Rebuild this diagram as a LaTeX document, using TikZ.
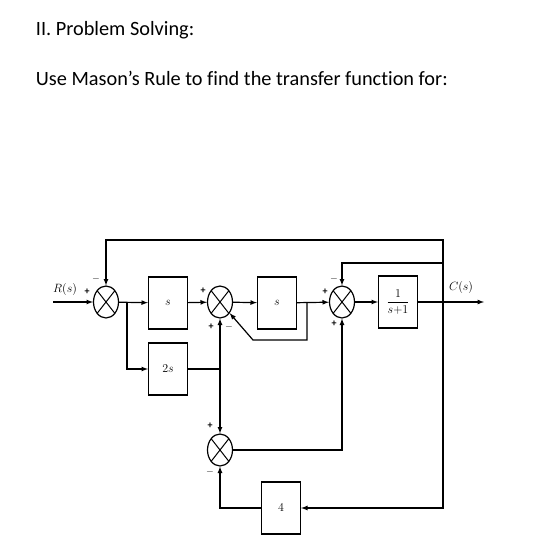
\documentclass[tikz,border=0pt]{standalone}
\usepackage{fontspec}
\setmainfont[Ligatures=NoCommon]{Carlito}
\usetikzlibrary{arrows,shapes.geometric}

\tikzset{
	block/.style={draw, line width=1.2pt, minimum width=39pt, minimum height=52pt, inner sep=0pt, font=\fontsize{12}{13}\selectfont},
	sumj/.style={draw, ellipse, line width=1.2pt, minimum width=25pt, minimum height=32pt, inner sep=0pt,
		path picture={\draw[line width=1pt] (path picture bounding box.north west) -- (path picture bounding box.south east)
			(path picture bounding box.north east) -- (path picture bounding box.south west);}},
	sgn/.style={font=\bfseries\fontsize{10}{10}\selectfont, inner sep=0pt},
	lbl/.style={font=\fontsize{12}{12}\selectfont, inner sep=0pt}
}

\begin{document}
\begin{tikzpicture}[x=1pt,y=-1pt,line width=1.2pt]
\useasboundingbox (0,0) rectangle (540,560);
\node[anchor=west,font=\fontsize{20.3}{22}\selectfont] (t1) at (32,30) {II. Problem Solving:};
\node[anchor=west,font=\fontsize{20.3}{22}\selectfont] (t2) at (32,78) {Use Mason’s Rule to find the transfer function for:};
% summing junctions
\node[sumj] (s1) at (106,302) {};
\node[sumj] (s2) at (220,302) {};
\node[sumj] (s3) at (342,302) {};
\node[sumj] (s4) at (220,450) {};
% blocks
\node[block] (g1) at (168,303) {$s$};
\node[block] (g2) at (168,369) {$2s$};
\node[block] (g3) at (277,303) {$s$};
\node[block] (g4) at (398,302) {$\displaystyle\frac{1}{s{+}1}$};
\node[block] (g5) at (281,508) {$4$};
% branch points
\coordinate (in) at (53,302);
\coordinate (out) at (484,302);
\coordinate (b1) at (127,302);
\coordinate (b2) at (307,302);
\coordinate (b3) at (220,369);
\coordinate (b4) at (443,302);
\coordinate (c1) at (307,340);
\coordinate (c2) at (253,340);
\coordinate (c3) at (443,240);
\coordinate (c4) at (443,263);
\node[lbl] (R) at (65,289) {$R(s)$};
\node[lbl] (C) at (461,287) {$C(s)$};
\draw [->,>=latex,](in)--(s1);
\draw [->,>=latex,](s1)--(g1);
\draw [->,>=latex,](b1)|-(g2);
\draw [->,>=latex,](g1)--(s2);
\draw [->,>=latex,](s2)--(g3);
\draw [->,>=latex,](g3)--(s3);
\draw [->,>=latex,](b2)--(c1)--(c2)--(s2);
\draw (g2)--(b3);
\draw [->,>=latex,](b3)--(s2);
\draw [->,>=latex,](b3)--(s4);
\draw [->,>=latex,](g5)-|(s4);
\draw [->,>=latex,](s4)-|(s3);
\draw [->,>=latex,](s3)--(g4);
\draw [->,>=latex,](g4)--(out);
\draw [->,>=latex,](b4)|-(g5);
\draw [->,>=latex,](b4)--(c3)-|(s1);
\draw [->,>=latex,](c4)-|(s3);
% signs
\node[sgn] (p1) at (87,292) {+};
\node[sgn] (m1) at (96,279) {$-$};
\node[sgn] (p2) at (203,291) {+};
\node[sgn] (p3) at (211,327) {+};
\node[sgn] (m2) at (229,327) {$-$};
\node[sgn] (p4) at (325,292) {+};
\node[sgn] (m3) at (334,279) {$-$};
\node[sgn] (p5) at (334,324) {+};
\node[sgn] (p6) at (210,426) {+};
\node[sgn] (m4) at (210,472) {$-$};
\end{tikzpicture}
\end{document}
